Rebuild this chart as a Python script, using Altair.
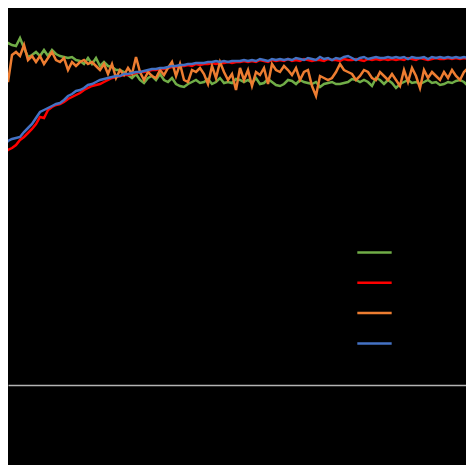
import altair as alt
import pandas as pd

series_names = ["Series 1", "Series 2", "Series 3", "Series 4"]
series_colors = ["#70AD47", "#FF0000", "#ED7D31", "#4472C4"]

epochs = list(range(1, 120))

green = [81.25, 84.25, 85.5, 85.0, 84.75, 86.75, 84.25, 82.0, 82.5, 83.25,
         82.25, 83.75, 82.25, 83.75, 82.75, 82.25, 82.0, 81.75, 82.0, 81.25,
         81.0, 80.25, 81.75, 80.25, 81.75, 79.75, 80.75, 79.75, 79.5, 78.75,
         78.75, 78.25, 77.5, 76.75, 77.75, 76.25, 75.5, 76.75, 77.25, 76.25,
         77.75, 76.25, 75.75, 76.75, 75.25, 74.75, 74.5, 75.25, 75.75, 76.25,
         75.5, 75.75, 76.5, 75.25, 75.75, 76.75, 75.5, 75.75, 75.5, 76.5,
         76.25, 75.75, 76.25, 75.5, 76.75, 75.25, 75.5, 76.5, 75.75, 75.0,
         74.75, 75.25, 76.25, 76.0, 75.25, 76.25, 75.75, 75.5, 75.25, 75.75,
         74.5, 75.25, 75.5, 75.75, 75.25, 75.25, 75.5, 75.75, 76.5, 76.25,
         75.75, 76.25, 75.75, 74.75, 76.75, 76.25, 75.25, 76.25, 75.5, 74.25,
         75.25, 75.75, 76.25, 75.5, 75.75, 75.25, 75.75, 76.25, 75.5, 75.75,
         75.0, 75.25, 75.75, 75.5, 76.0, 76.25, 75.75, 74.75, 75.25]

red = [57.0, 58.0, 58.75, 59.25, 60.0, 61.25, 62.0, 63.0, 64.0, 65.25,
       67.0, 66.75, 68.75, 69.5, 70.0, 70.25, 70.75, 71.5, 72.0, 72.5,
       73.0, 73.75, 74.25, 74.75, 75.0, 75.25, 75.75, 76.25, 76.75, 77.0,
       77.25, 77.5, 77.5, 77.75, 78.0, 78.25, 78.25, 78.5, 78.75, 78.75,
       79.0, 79.0, 79.25, 79.5, 79.5, 79.75, 79.75, 80.0, 79.75, 80.25,
       80.0, 80.25, 80.25, 80.5, 80.25, 80.5, 80.5, 80.75, 80.5, 80.75,
       80.75, 81.0, 80.75, 81.0, 80.75, 81.25, 81.0, 80.75, 81.25, 81.0,
       81.25, 81.0, 81.5, 81.0, 81.25, 81.0, 81.5, 81.25, 81.0, 81.25,
       81.25, 81.0, 81.5, 81.25, 81.25, 81.0, 81.5, 81.25, 81.25, 81.5,
       81.25, 81.0, 81.5, 81.25, 81.5, 81.25, 81.5, 81.25, 81.5, 81.25,
       81.5, 81.25, 81.75, 81.5, 81.25, 81.75, 81.5, 81.25, 81.5, 81.75,
       81.5, 81.5, 81.75, 81.5, 81.75, 81.5, 81.75, 81.5, 81.75]

orange = [80.5, 79.75, 75.75, 82.5, 83.25, 82.25, 85.0, 81.25, 82.25, 80.75,
          82.25, 80.25, 81.75, 83.25, 81.25, 80.75, 81.75, 78.75, 80.75, 79.75,
          80.75, 81.25, 80.25, 80.75, 79.75, 78.75, 80.25, 77.75, 80.25, 76.75,
          78.75, 77.5, 79.25, 77.75, 82.0, 78.25, 76.25, 78.25, 77.25, 76.75,
          78.75, 77.5, 79.25, 80.75, 77.25, 80.25, 76.25, 75.75, 78.75, 78.25,
          79.25, 77.75, 75.25, 79.75, 76.75, 80.75, 78.25, 76.25, 77.75, 73.75,
          79.25, 76.25, 78.75, 74.75, 78.25, 77.5, 79.25, 75.25, 80.25, 78.75,
          78.25, 79.75, 78.75, 77.5, 79.25, 76.25, 78.25, 78.75, 74.75, 72.25,
          77.25, 76.75, 76.25, 76.75, 78.25, 80.25, 78.75, 78.25, 77.75, 76.25,
          77.25, 78.75, 78.25, 76.75, 76.25, 78.25, 77.25, 76.25, 77.75, 76.25,
          74.75, 78.75, 75.75, 79.25, 77.25, 74.25, 78.75, 76.75, 78.25, 77.25,
          76.25, 78.25, 76.75, 78.75, 77.25, 76.25, 78.25, 79.25, 80.75]

blue = [60.5, 59.75, 61.0, 61.5, 61.75, 62.0, 63.25, 64.25, 65.25, 66.75,
        68.25, 68.75, 69.25, 69.75, 70.25, 70.5, 71.25, 72.25, 72.75, 73.5,
        73.75, 74.25, 75.0, 75.25, 75.75, 76.25, 76.5, 76.75, 77.0, 77.25,
        77.25, 77.75, 77.75, 78.0, 78.25, 78.25, 78.5, 78.75, 79.0, 79.0,
        79.25, 79.25, 79.5, 79.75, 79.75, 80.0, 80.0, 80.25, 80.25, 80.5,
        80.5, 80.5, 80.75, 80.75, 81.0, 80.75, 81.0, 80.75, 81.0, 81.0,
        81.0, 81.25, 81.0, 81.25, 81.0, 81.5, 81.25, 81.0, 81.5, 81.25,
        81.5, 81.25, 81.5, 81.25, 81.75, 81.5, 81.25, 81.75, 81.5, 81.25,
        82.0, 81.5, 81.75, 81.25, 81.75, 81.5, 82.0, 82.25, 81.75, 81.25,
        81.75, 82.0, 81.5, 81.75, 82.0, 81.75, 81.75, 82.0, 81.75, 82.0,
        81.75, 82.0, 81.5, 82.0, 81.75, 81.75, 82.0, 81.5, 82.0, 81.75,
        82.0, 81.75, 82.0, 81.75, 82.0, 81.75, 82.0, 81.75, 82.0]

rows = []
for name, vals in zip(series_names, [green, red, orange, blue]):
    for e, v in zip(epochs, vals):
        rows.append({"epoch": e, "value": v, "series": name})
df = pd.DataFrame(rows)

chart = alt.Chart(df).mark_line(strokeWidth=2.5, clip=True).encode(
    x=alt.X("epoch:Q", scale=alt.Scale(domain=[3, 117.5], nice=False, zero=False),
            axis=alt.Axis(domainColor="#b4b4b4", domainWidth=1.5, ticks=False,
                          labels=False, grid=False, title=None)),
    y=alt.Y("value:Q", scale=alt.Scale(domain=[0, 92], nice=False),
            axis=alt.Axis(domain=False, ticks=False, labels=False, grid=False, title=None)),
    color=alt.Color("series:N",
                    scale=alt.Scale(domain=series_names, range=series_colors),
                    legend=alt.Legend(orient="none", legendX=348, legendY=217,
                                      title=None, symbolType="stroke",
                                      symbolStrokeWidth=2.5, symbolSize=1180,
                                      labelColor="#000000", rowPadding=6.3)),
    order=alt.Order("epoch:Q"),
).properties(
    width=458, height=368,
    background="#000000",
    padding={"left": 0, "top": 9, "right": 0, "bottom": 80},
    autosize=alt.AutoSizeParams(type="none"),
).configure_view(stroke=None)

chart.save("out.html", embed_options={"renderer": "svg", "actions": False})
